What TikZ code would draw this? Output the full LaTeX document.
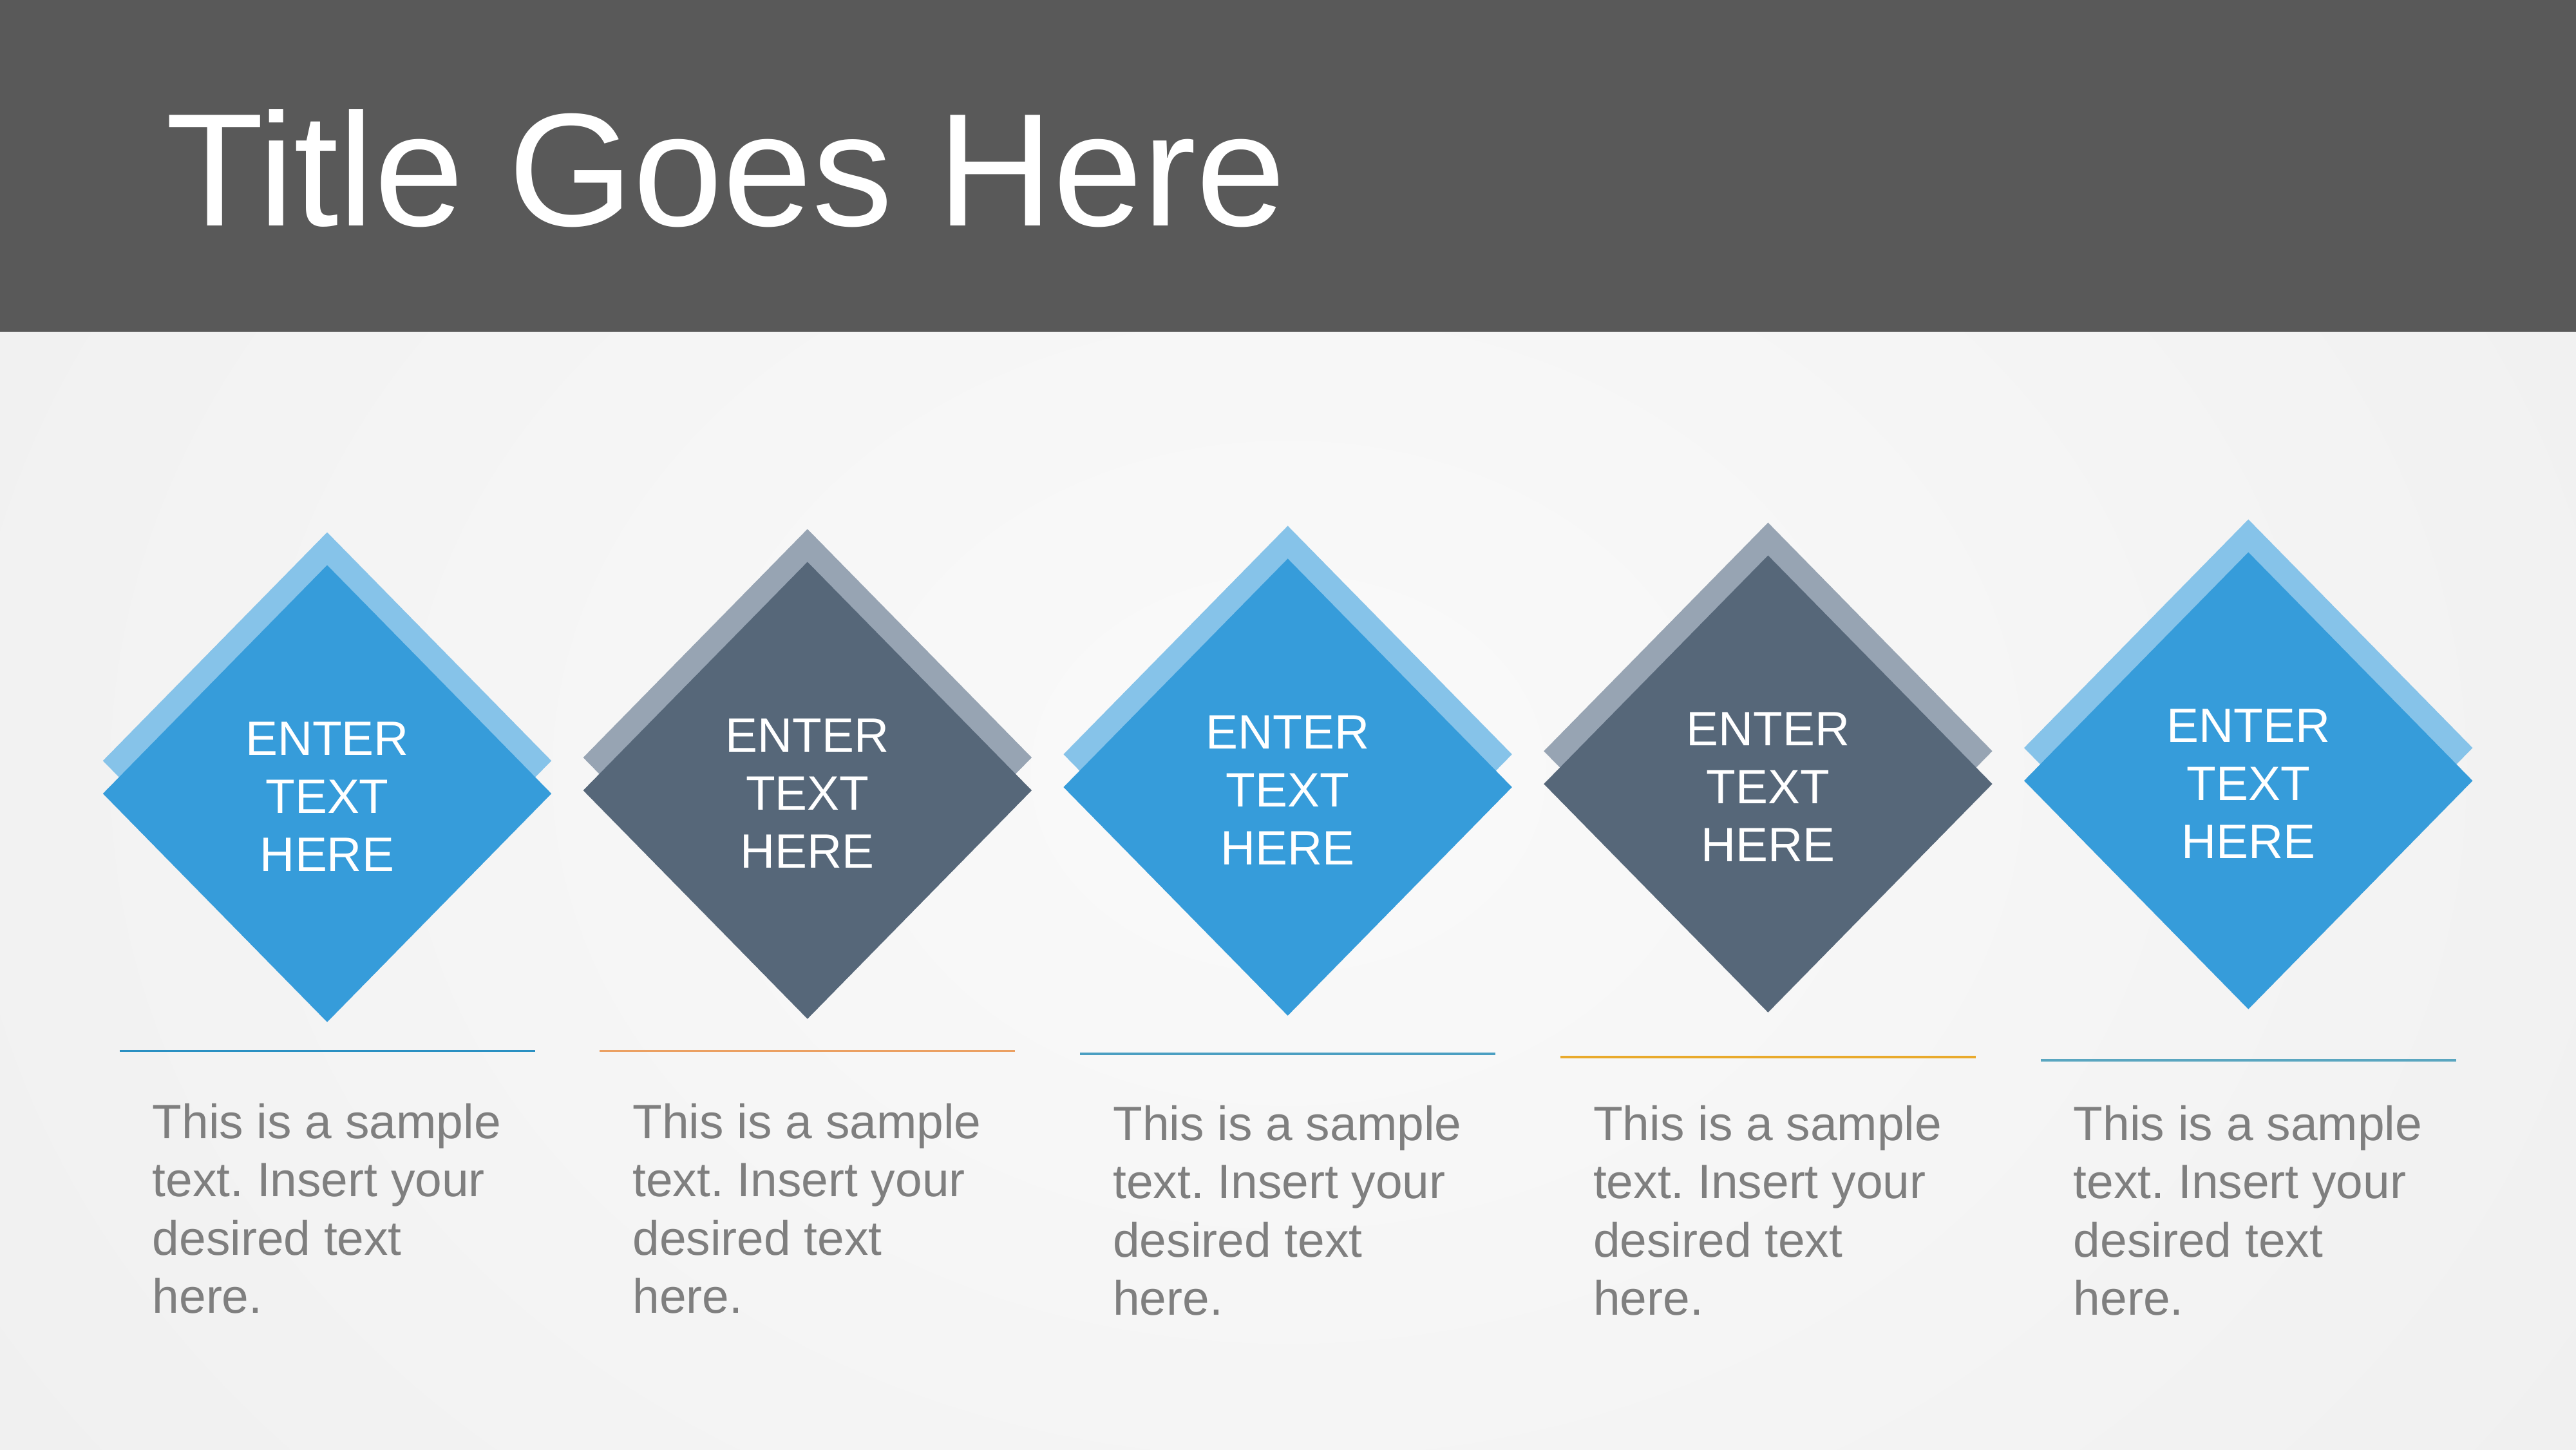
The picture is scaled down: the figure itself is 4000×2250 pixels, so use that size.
\documentclass[tikz,border=0pt]{standalone}
\usepackage{fontspec}
\setmainfont{Liberation Sans}
\frenchspacing
\usetikzlibrary{shapes.geometric}
\definecolor{hdr}{HTML}{595959}
\definecolor{bluef}{HTML}{369CDA}
\definecolor{blueb}{HTML}{86C3E9}
\definecolor{slatef}{HTML}{566779}
\definecolor{slateb}{HTML}{97A4B3}
\definecolor{bodygray}{HTML}{7F7F7F}
\definecolor{lnA}{HTML}{2A90C2}
\definecolor{lnB}{HTML}{EBA062}
\definecolor{lnC}{HTML}{4B9FC2}
\definecolor{lnD}{HTML}{E9AA2C}
\definecolor{lnE}{HTML}{5AA6C0}
\definecolor{bgA}{HTML}{FAFAFA}
\definecolor{bgB}{HTML}{F7F7F7}
\definecolor{bgC}{HTML}{F0F0F0}
\definecolor{bgD}{HTML}{E5E5E5}
\definecolor{bgE}{HTML}{DBDBDB}
\definecolor{bgF}{HTML}{D4D4D4}
\pgfdeclareradialshading{bgshade}{\pgfpoint{0bp}{0bp}}{color(0bp)=(bgA); color(10bp)=(bgB); color(30bp)=(bgC); color(45bp)=(bgD); color(50bp)=(bgE); color(71bp)=(bgF)}
\begin{document}
\begin{tikzpicture}[x=0.01cm,y=-0.01cm,
  dia/.style={diamond, draw=none, inner sep=0pt, outer sep=0pt, minimum width=6.96cm, minimum height=7.09cm},
  diatext/.style={text=white, align=center, inner sep=0pt, font=\fontsize{21.3}{25.6}\selectfont},
  bodytext/.style={text=bodygray, align=left, inner sep=0pt, font=\fontsize{21.3}{25.6}\selectfont},
  sepline/.style={line width=0.9pt}]
\useasboundingbox (0,0) rectangle (4000,2250);
\begin{scope}
\clip (0,0) rectangle (4000,2250);
\shade[shading=bgshade] (0,-350) rectangle (4000,2750);
\end{scope}
\fill[hdr] (0,0) rectangle (4000,515);
\node[anchor=base west, inner sep=0pt, text=white, font=\fontsize{71}{85}\selectfont] (title) at (257,350) {Title Goes Here};
\foreach \i/\fc/\bc/\lc/\ly/\ty in {0/bluef/blueb/lnA/1631.4/1768, 1/slatef/slateb/lnB/1631.4/1768, 2/bluef/blueb/lnC/1636/1771, 3/slatef/slateb/lnD/1641/1771, 4/bluef/blueb/lnE/1646/1771}{
  \pgfmathsetmacro\cx{508+745.8*\i}
  \pgfmathsetmacro\cy{1232-5*\i}
  \pgfmathtruncatemacro\n{\i+1}
  \node[dia, fill=\bc] (b\n) at (\cx,\cy-51) {};
  \node[dia, fill=\fc] (d\n) at (\cx,\cy) {};
  \node[diatext] (e\n) at (\cx,\cy+5) {ENTER\\TEXT\\HERE};
  \coordinate (la\n) at (\cx-322.5,\ly);
  \coordinate (lb\n) at (\cx+322.5,\ly);
  \draw[sepline, draw=\lc] (la\n) -- (lb\n);
  \node[bodytext, anchor=base west] (t\n) at (\cx-272,\ty+270) {This is a sample\\text. Insert your\\desired text\\here.};
}
\end{tikzpicture}
\end{document}
